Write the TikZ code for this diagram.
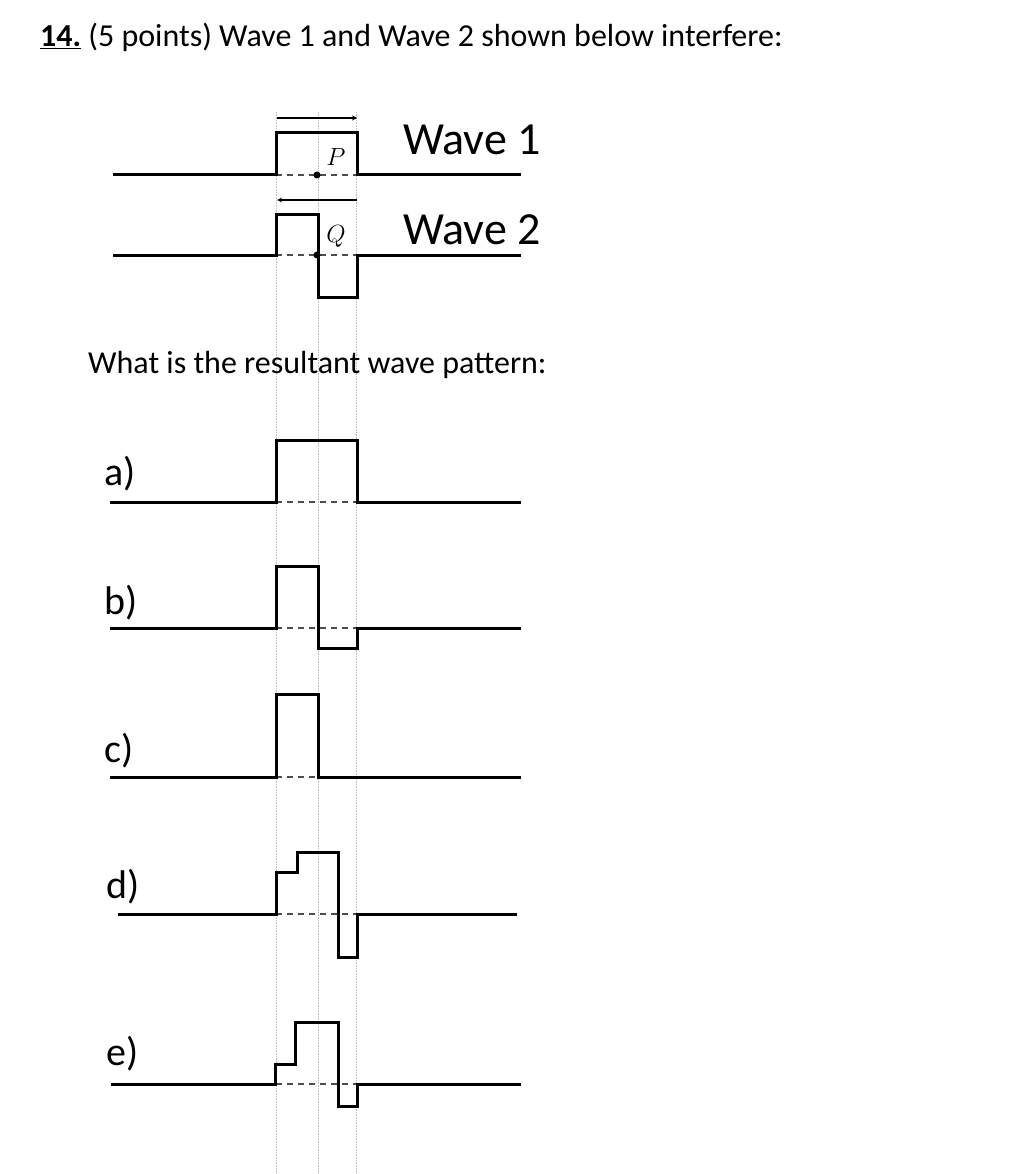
\documentclass[tikz,border=0pt]{standalone}
\usepackage{fontspec}
\setmainfont{Carlito}
\begin{document}
\begin{tikzpicture}[x=1pt,y=-1pt,
  wave/.style={line width=3pt,line join=miter},
  dsh/.style={dash pattern=on 6pt off 5pt,line width=1.3pt,gray!60!black},
  guide/.style={densely dotted,line width=0.6pt,gray!50},
  lbl/.style={font=\fontsize{40}{44}\selectfont,anchor=west,inner sep=0},
  wlbl/.style={font=\fontsize{46}{50}\selectfont,anchor=west,inner sep=0}]
\useasboundingbox (0,0) rectangle (1030,1174);
\foreach \x in {276,318,356} \draw[guide] (\x,112) -- (\x,1174);
\node[anchor=west,inner sep=0,font=\fontsize{32}{36}\selectfont] (title) at (40,37) {\textbf{\underline{14.}} (5 points) Wave 1 and Wave 2 shown below interfere:};
% Wave 1
\draw[dsh] (276,175) -- (357,175);
\draw[wave] (113,175) -- (276,175) -- (276,133) -- (357,133) -- (357,175) -- (521,175);
\draw[-stealth,line width=1.2pt] (277,118) -- (357,118);
\fill (317,175) circle (3.5pt);
\node[font=\fontsize{24}{26}\selectfont] (P) at (336,157) {$P$};
\node[wlbl] (w1) at (403,140) {Wave 1};
% Wave 2
\draw[dsh] (276,255) -- (357,255);
\draw[wave] (113,255) -- (276,255) -- (276,215) -- (318,215) -- (318,297) -- (357,297) -- (357,255) -- (521,255);
\draw[-stealth,line width=1.2pt] (357,200) -- (277,200);
\fill (317,255) circle (3.5pt);
\node[font=\fontsize{24}{26}\selectfont] (Q) at (336,236) {$Q$};
\node[wlbl] (w2) at (403,230) {Wave 2};
\node[anchor=west,inner sep=0,font=\fontsize{32}{36}\selectfont] (q) at (88,365) {What is the resultant wave pattern:};
% a
\draw[dsh] (276,502) -- (357,502);
\draw[wave] (110,502) -- (276,502) -- (276,440) -- (357,440) -- (357,502) -- (521,502);
\node[lbl] (a) at (104,474) {a)};
% b
\draw[dsh] (276,628) -- (357,628);
\draw[wave] (110,628) -- (276,628) -- (276,566) -- (318,566) -- (318,648) -- (357,648) -- (357,628) -- (521,628);
\node[lbl] (b) at (104,603) {b)};
% c
\draw[dsh] (276,777) -- (318,777);
\draw[wave] (110,777) -- (276,777) -- (276,694) -- (318,694) -- (318,777) -- (521,777);
\node[lbl] (c) at (104,751) {c)};
% d
\draw[dsh] (276,914) -- (357,914);
\draw[wave] (118,914) -- (276,914) -- (276,872) -- (297,872) -- (297,852) -- (338,852) -- (338,957) -- (357,957) -- (357,914) -- (517,914);
\node[lbl] (d) at (106,887) {d)};
% e
\draw[dsh] (276,1084) -- (357,1084);
\draw[wave] (111,1084) -- (275,1084) -- (275,1064) -- (295,1064) -- (295,1022) -- (338,1022) -- (338,1106) -- (357,1106) -- (357,1084) -- (521,1084);
\node[lbl] (e) at (106,1054) {e)};
\end{tikzpicture}
\end{document}
